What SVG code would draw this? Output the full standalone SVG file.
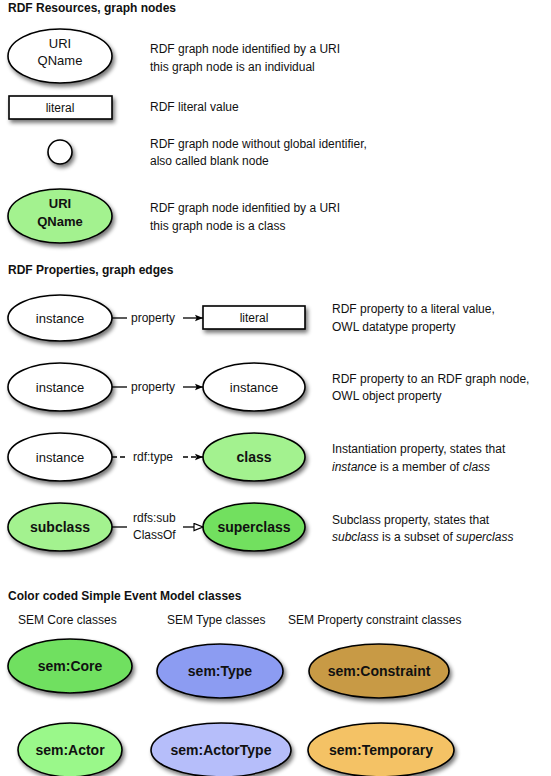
<svg xmlns="http://www.w3.org/2000/svg" width="551" height="776" viewBox="0 0 551 776">
<defs>
<filter id="sh" x="-20%" y="-30%" width="150%" height="170%">
<feGaussianBlur in="SourceAlpha" stdDeviation="2"/>
<feOffset dx="2" dy="3" result="b"/>
<feComponentTransfer><feFuncA type="linear" slope="0.55"/></feComponentTransfer>
<feMerge><feMergeNode/><feMergeNode in="SourceGraphic"/></feMerge>
</filter>
<marker id="arr" viewBox="0 0 10 10" refX="10" refY="5" markerWidth="8" markerHeight="8" markerUnits="userSpaceOnUse" orient="auto">
<path d="M0,1 L10,5 L0,9 L2,5 Z" fill="#000"/>
</marker>
<marker id="hollow" viewBox="0 0 12 10" refX="11" refY="5" markerWidth="11" markerHeight="9" markerUnits="userSpaceOnUse" orient="auto">
<path d="M1,1 L11,5 L1,9 Z" fill="#fff" stroke="#000" stroke-width="1.3"/>
</marker>
</defs>
<style>
text{font-family:"Liberation Sans",Arial,sans-serif;fill:#111}
.h{font-size:12px;font-weight:bold}
.d{font-size:12px}
.n{font-size:13px;text-anchor:middle}
.nb{font-size:14px;font-weight:bold;text-anchor:middle}
.e{stroke:#000;stroke-width:1.6;filter:url(#sh)}
.w{fill:#fff}
.g{fill:#a3f28f}
.gd{fill:#72e05f}
.c{stroke:#000;stroke-width:1.3;fill:none}
</style>
<rect width="551" height="776" fill="#fff"/>

<text class="h" x="8" y="12">RDF Resources, graph nodes</text>

<g id="uri-node">
<ellipse class="e w" cx="60" cy="56" rx="52" ry="27"/>
<text class="n" x="60" y="48">URI</text>
<text class="n" x="60" y="65">QName</text>
</g>
<text class="d" x="150" y="53">RDF graph node identified by a URI</text>
<text class="d" x="150" y="71">this graph node is an individual</text>

<g id="literal-node">
<rect class="e w" x="9" y="96" width="103" height="23"/>
<text class="n" x="60" y="112" style="font-size:12px">literal</text>
</g>
<text class="d" x="150" y="111">RDF literal value</text>

<g id="blank-node">
<circle class="e w" cx="60" cy="152" r="12"/>
</g>
<text class="d" x="150" y="148">RDF graph node without global identifier,</text>
<text class="d" x="150" y="165">also called blank node</text>

<g id="class-node">
<ellipse class="e g" cx="60" cy="216" rx="52" ry="27"/>
<text class="nb" x="60" y="208" style="font-size:13px">URI</text>
<text class="nb" x="60" y="226" style="font-size:13px">QName</text>
</g>
<text class="d" x="150" y="212">RDF graph node idenfitied by a URI</text>
<text class="d" x="150" y="230">this graph node is a class</text>

<text class="h" x="8" y="274">RDF Properties, graph edges</text>

<g id="r1-instance">
<ellipse class="e w" cx="60" cy="318" rx="52" ry="23"/>
<text class="n" x="60" y="323">instance</text>
</g>
<g id="r1-literal">
<rect class="e w" x="203" y="306" width="102" height="23"/>
<text class="n" x="254" y="322" style="font-size:12px">literal</text>
</g>
<text class="d" x="332" y="313">RDF property to a literal value,</text>
<text class="d" x="332" y="331">OWL datatype property</text>

<g id="r2-instance-a">
<ellipse class="e w" cx="60" cy="387" rx="52" ry="24"/>
<text class="n" x="60" y="392">instance</text>
</g>
<g id="r2-instance-b">
<ellipse class="e w" cx="254" cy="387" rx="51" ry="24"/>
<text class="n" x="254" y="392">instance</text>
</g>
<text class="d" x="332" y="383">RDF property to an RDF graph node,</text>
<text class="d" x="332" y="400">OWL object property</text>

<g id="r3-instance">
<ellipse class="e w" cx="60" cy="457" rx="52" ry="24"/>
<text class="n" x="60" y="462">instance</text>
</g>
<g id="r3-class">
<ellipse class="e g" cx="254" cy="457" rx="51" ry="24"/>
<text class="nb" x="254" y="462">class</text>
</g>
<text class="d" x="332" y="453">Instantiation property, states that</text>
<text class="d" x="332" y="471"><tspan font-style="italic">instance</tspan> is a member of <tspan font-style="italic">class</tspan></text>

<g id="r4-subclass">
<ellipse class="e g" cx="60" cy="527" rx="52" ry="24"/>
<text class="nb" x="60" y="532">subclass</text>
</g>
<g id="r4-superclass">
<ellipse class="e gd" cx="254" cy="527" rx="51" ry="24"/>
<text class="nb" x="254" y="532">superclass</text>
</g>
<text class="d" x="332" y="524">Subclass property, states that</text>
<text class="d" x="332" y="541"><tspan font-style="italic">subclass</tspan> is a subset of <tspan font-style="italic">superclass</tspan></text>

<g id="connectors">
<line class="c" x1="112" y1="318" x2="127" y2="318"/>
<text class="d" x="131" y="322">property</text>
<line class="c" x1="183" y1="318" x2="203" y2="318" marker-end="url(#arr)"/>
<line class="c" x1="112" y1="387" x2="127" y2="387"/>
<text class="d" x="131" y="391">property</text>
<line class="c" x1="183" y1="387" x2="203" y2="387" marker-end="url(#arr)"/>
<line class="c" x1="112" y1="457" x2="127" y2="457" stroke-dasharray="5,3"/>
<text class="d" x="133" y="461">rdf:type</text>
<line class="c" x1="183" y1="457" x2="203" y2="457" stroke-dasharray="5,3" marker-end="url(#arr)"/>
<line class="c" x1="112" y1="527" x2="127" y2="527"/>
<text class="d" x="133" y="522">rdfs:sub</text>
<text class="d" x="133" y="539">ClassOf</text>
<line class="c" x1="183" y1="527" x2="203" y2="527" marker-end="url(#hollow)"/>
</g>

<text class="h" x="8" y="600">Color coded Simple Event Model classes</text>
<text class="d" x="18" y="624">SEM Core classes</text>
<text class="d" x="167" y="624">SEM Type classes</text>
<text class="d" x="288" y="624">SEM Property constraint classes</text>

<g id="sem-core">
<ellipse class="e" fill="#6fe060" cx="70" cy="666" rx="62" ry="27"/>
<text class="nb" x="70" y="671">sem:Core</text>
</g>
<g id="sem-type">
<ellipse class="e" fill="#8c9cf2" cx="220" cy="671" rx="63" ry="27"/>
<text class="nb" x="220" y="676">sem:Type</text>
</g>
<g id="sem-constraint">
<ellipse class="e" fill="#c89a45" cx="379" cy="671" rx="70" ry="27"/>
<text class="nb" x="379" y="676">sem:Constraint</text>
</g>
<g id="sem-actor">
<ellipse class="e" fill="#9af88a" cx="70" cy="750" rx="52" ry="27"/>
<text class="nb" x="70" y="755">sem:Actor</text>
</g>
<g id="sem-actortype">
<ellipse class="e" fill="#b6befa" cx="221" cy="750" rx="70" ry="27"/>
<text class="nb" x="221" y="755">sem:ActorType</text>
</g>
<g id="sem-temporary">
<ellipse class="e" fill="#f4c265" cx="381" cy="750" rx="73" ry="27"/>
<text class="nb" x="381" y="755">sem:Temporary</text>
</g>
</svg>
